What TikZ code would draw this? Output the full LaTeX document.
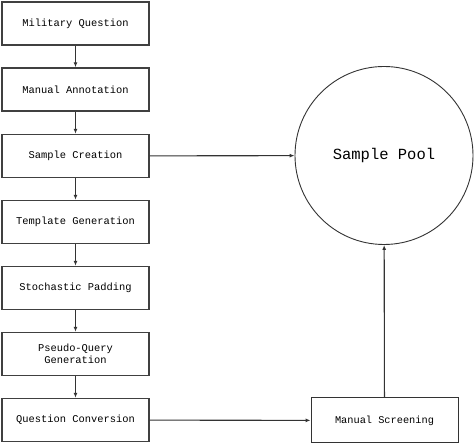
\documentclass[tikz,border=0pt]{standalone}
\usepackage{fontspec}
\setmonofont{Liberation Mono}
\usetikzlibrary{arrows.meta}
\begin{document}
\begin{tikzpicture}[x=1pt,y=-1pt,
  stepbox/.style={draw=black!75,line width=1.4pt,minimum width=147pt,minimum height=43pt,inner sep=0pt,font=\ttfamily\fontsize{10.4}{12.5}\selectfont,align=center},
  pool/.style={draw=black!80,line width=0.9pt,circle,minimum size=178pt,inner sep=0pt,font=\ttfamily\fontsize{15.5}{18}\selectfont},
  screen/.style={draw=black!80,line width=1pt,minimum width=147pt,minimum height=45pt,inner sep=0pt,font=\ttfamily\fontsize{10.3}{12}\selectfont},
  conn/.style={draw=black!80,line width=1.1pt,-{Latex[length=5pt,width=4pt]}}]
\useasboundingbox (0,0) rectangle (474,443);
\fill[white] (0,0) rectangle (474,443);
\node[stepbox] (b1) at (75.5,23.5) {Military Question};
\node[stepbox] (b2) at (75.5,89.5) {Manual Annotation};
\node[stepbox] (b3) at (75.5,156) {Sample Creation};
\node[stepbox] (b4) at (75.5,222) {Template Generation};
\node[stepbox] (b5) at (75.5,288) {Stochastic Padding};
\node[stepbox] (b6) at (75.5,354) {Pseudo-Query\\Generation};
\node[stepbox] (b7) at (75.5,420) {Question Conversion};
\node[pool] (pool) at (384,155.5) {Sample Pool};
\node[screen] (ms) at (384.5,420.5) {Manual Screening};
\draw[conn] (b1) -- (b2);
\draw[conn] (b2) -- (b3);
\draw[conn] (b3) -- (b4);
\draw[conn] (b4) -- (b5);
\draw[conn] (b5) -- (b6);
\draw[conn] (b6) -- (b7);
\draw[conn] (b3) -- (pool);
\draw[conn] (b7) -- (ms);
\draw[conn] (ms) -- (pool);
\end{tikzpicture}
\end{document}
